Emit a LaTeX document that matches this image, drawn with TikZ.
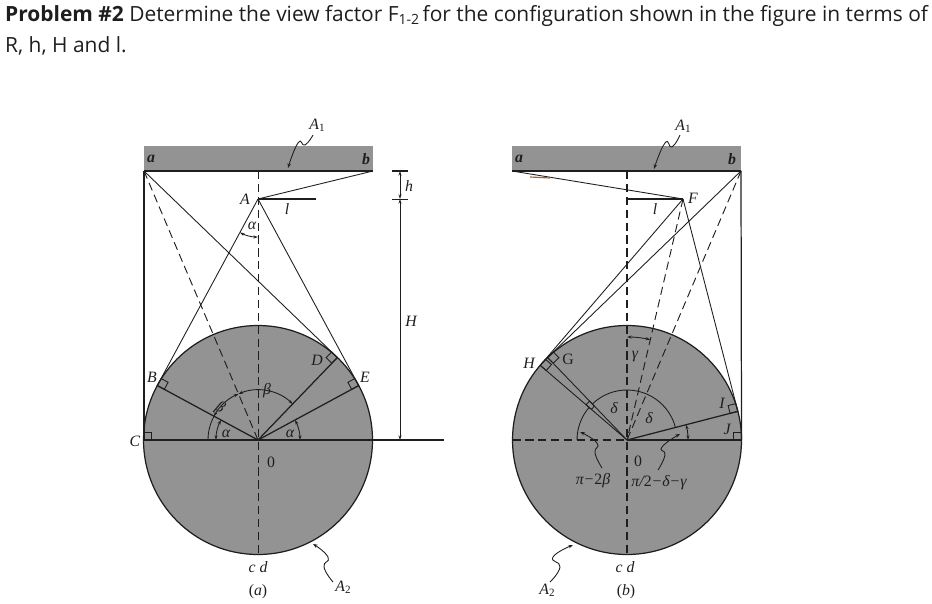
\documentclass[tikz,border=0pt]{standalone}
\usepackage{fontspec}
\newfontfamily\headfont{Open Sans}
\newfontfamily\labelfont{Liberation Serif}
\usetikzlibrary{calc,arrows.meta}
\definecolor{areagray}{HTML}{939393}
\definecolor{ink}{HTML}{1E1E1E}
\definecolor{smudge}{HTML}{A5622A}
\newcommand{\sqmark}[3]{\draw[thinline] ($(#1)+(#2:106.5)$) -- ++(#2+#3*90:8) -- ++(#2:8);
\draw[thinline] ($(#1)+(#2:106.5)$) -- ($(#1)+(#2:114.5)$) -- ++(#2+#3*90:8);}
\newcommand{\squig}[5]{\coordinate (#1p) at #2; \coordinate (#1q) at #3; \coordinate (#1r) at #4; \coordinate (#1s) at #5;
\draw[thinline,-{Stealth[length=4pt,width=3pt]}] plot[smooth,tension=0.9] coordinates {(#1p) (#1q) (#1r) (#1s)};}
\newcommand{\arcat}[5][thinline]{\draw[#1] ($(#2)+(#3:#5)$) arc[start angle=#3,end angle=#4,radius=#5];}
\newcommand{\lowtext}[1]{{\upshape\fontsize{9.5pt}{10pt}\selectfont\raisebox{-2pt}{#1}}}
\begin{document}
\begin{tikzpicture}[x=0.03cm,y=0.03cm,line cap=butt,color=ink]
\tikzstyle{every node}=[inner sep=0pt,text=ink,font=\labelfont\itshape\fontsize{13.5pt}{14pt}\selectfont]
\tikzstyle{thinline}=[line width=0.75pt,draw=ink]
\tikzstyle{midline}=[line width=1.05pt,draw=ink]
\tikzstyle{heavyline}=[line width=1.9pt,draw=ink]
\tikzstyle{dashline}=[line width=0.8pt,draw=ink,dash pattern=on 7pt off 4pt]
\tikzstyle{dimline}=[line width=0.6pt,draw=ink,{Stealth[length=4pt,width=2.6pt]}-{Stealth[length=4pt,width=2.6pt]}]
\tikzstyle{tiparc}=[line width=0.75pt,draw=ink,{Stealth[length=4pt,width=2.6pt]}-{Stealth[length=4pt,width=2.6pt]}]
\useasboundingbox (0,0) rectangle (932,603);

\node[anchor=base west,font=\headfont\fontsize{17.87pt}{20pt}\selectfont](title1) at (5,581) {\textbf{Problem \#2} Determine the view factor F{\fontsize{12pt}{12pt}\selectfont\raisebox{-2.5pt}{1-2}}\,for the configuration shown in the figure in terms of};
\node[anchor=base west,font=\headfont\fontsize{17.87pt}{20pt}\selectfont](title2) at (5,550) {R, h, H and l.};

% figure (a)
\coordinate (o1) at (258,163);
\coordinate (a1) at (144,432);
\coordinate (b1) at (373,432);
\coordinate (pA) at (258,404);
\coordinate (lA) at (316,404);
\coordinate (pC) at (144,163);
\coordinate (end1) at (444,163);
\coordinate (bot1) at (258,48.5);
\coordinate (pB) at ($(o1)+(151.6:114.5)$);
\coordinate (pE) at ($(o1)+(28.4:114.5)$);
\coordinate (pD) at ($(o1)+(46.1:114.5)$);
\fill[areagray] (a1) rectangle (373,457);
\draw[midline,fill=areagray] (o1) circle[radius=114.5];
\draw[heavyline] (a1) -- (b1);
\draw[heavyline] (pC) -- (end1);
\draw[midline] (a1) -- (pC);
\draw[midline] (pA) -- (lA);
\draw[thinline] (pA) -- (b1);
\draw[thinline] (pA) -- (pB);
\draw[thinline] (pA) -- (pE);
\draw[thinline] (a1) -- (pD);
\draw[dashline] (a1) -- (o1);
\draw[dashline] (b1 -| o1) -- (bot1);
\draw[midline] (o1) -- (pB);
\draw[midline] (o1) -- (pD);
\draw[midline] (o1) -- (pE);
\sqmark{o1}{151.6}{-1}
\sqmark{o1}{28.4}{1}
\sqmark{o1}{46.1}{1}
\sqmark{o1}{180}{-1}
\arcat{o1}{180}{151.6}{50}
\arcat[tiparc]{o1}{151.6}{113}{50}
\arcat[tiparc]{o1}{113}{46.1}{50}
\arcat[tiparc]{o1}{180}{151.6}{42}
\arcat[tiparc]{o1}{0}{28.4}{42}
\arcat[tiparc]{pA}{270}{241.6}{38}

\coordinate (hbar1) at (400,432);
\coordinate (hbar2) at (400,404);
\coordinate (hbar3) at (400,163);
\draw[midline] (392,432) -- (408,432);
\draw[thinline] (392,404) -- (408,404);
\draw[dimline] (hbar1) -- (hbar2);
\draw[dimline] (hbar2) -- (hbar3);

\squig{s1}{(313,468)}{(305,458)}{(298,460)}{(288,435)}
\squig{s2}{(333,21)}{(324,36)}{(328,46)}{(313,59)}

\node(ta1) at (317,478) {A\lowtext{1}};
\node(ta) at (151,444) {\textbf{a}};
\node(tb) at (366,444) {\textbf{b}};
\node(tA) at (245,404) {A};
\node(tl) at (287,394) {l};
\node(talpha1) at (252,377) {α};
\node(th) at (409,417) {h};
\node(tH) at (411,282) {H};
\node(tB) at (152,226) {B};
\node(tC) at (135,162) {C};
\node(tD) at (317,243) {D};
\node(tE) at (365,226) {E};
\node(tbeta1) at (267,212) {β};
\node[rotate=-30](tbeta2) at (220,195) {β};
\node(talpha2) at (226,169) {α};
\node(talpha3) at (290,169) {α};
\node(tzero1) at (271,141) {\upshape 0};
\node(tcd1) at (258,36) {c d};
\node(tcap1) at (258,11) {{\upshape(}a{\upshape)}};
\node(ta2) at (343,16) {A\lowtext{2}};

% figure (b)
\coordinate (o2) at (627,163);
\coordinate (a2) at (512,432);
\coordinate (b2) at (741,432);
\coordinate (pF) at (683,404);
\coordinate (lF) at (627,404);
\coordinate (pJ) at (741.5,163);
\coordinate (pL) at (512.5,163);
\coordinate (top2) at (627,432);
\coordinate (bot2) at (627,48.5);
\coordinate (pH) at ($(o2)+(139.3:114.5)$);
\coordinate (pG) at ($(o2)+(133.9:114.5)$);
\coordinate (pI) at ($(o2)+(14.5:114.5)$);
\coordinate (mark1) at (530,426);
\coordinate (mark2) at (550,425);
\fill[areagray] (a2) rectangle (741,457);
\draw[midline,fill=areagray] (o2) circle[radius=114.5];
\draw[heavyline] (a2) -- (b2);
\draw[heavyline] (o2) -- (pJ);
\draw[heavyline,dash pattern=on 7pt off 4pt] (pL) -- (o2);
\draw[line width=1.3pt,draw=ink,dash pattern=on 7pt off 4pt] (top2) -- (bot2);
\draw[midline] (b2) -- (pJ);
\draw[midline] (pF) -- (lF);
\draw[thinline] (a2) -- (pF);
\draw[line width=1pt,draw=smudge] (mark1) -- (mark2);
\draw[thinline] (pF) -- (pH);
\draw[thinline] (pF) -- (pI);
\draw[thinline] (b2) -- (pG);
\draw[dashline] (pF) -- (o2);
\draw[dashline] (b2) -- (o2);
\draw[thinline] (o2) -- (pH);
\draw[thinline] (o2) -- (pG);
\draw[midline] (o2) -- (pI);
\sqmark{o2}{139.3}{-1}
\sqmark{o2}{133.9}{-1}
\sqmark{o2}{14.5}{1}
\sqmark{o2}{0}{1}
\arcat{o2}{180}{139.3}{50}
\arcat{o2}{133.9}{14.5}{50}
\draw[thinline] ($(o2)+(133.9:47)$) -- ($(o2)+(133.9:54)$) -- ($(o2)+(139.3:54)$) -- ($(o2)+(139.3:47)$) -- cycle;
\arcat[tiparc]{o2}{90}{76.9}{103}
\arcat[tiparc]{o2}{0}{14.5}{61}

\squig{s3}{(680,468)}{(672,456)}{(665,460)}{(654,434)}
\squig{s4}{(550,21)}{(560,36)}{(553,46)}{(573,58)}
\squig{s5}{(602,135)}{(595,150)}{(597,160)}{(580,171)}
\squig{s6}{(658,133)}{(665,148)}{(662,156)}{(680,169)}

\node(tb1) at (683,477) {A\lowtext{1}};
\node(tb2) at (519,444) {\textbf{a}};
\node(tb3) at (732,444) {\textbf{b}};
\node(tF) at (693,405) {F};
\node(tl2) at (655,394) {l};
\node(tH2) at (529,240) {H};
\node(tG) at (568,244) {\upshape G};
\node(tI) at (722,200) {I};
\node(tJ) at (727,174) {J};
\node(tgamma) at (635,246) {γ};
\node(tdelta1) at (614,195) {δ};
\node(tdelta2) at (649,185) {δ};
\node(tzero2) at (638,142) {\upshape 0};
\node(tpi1) at (593,122) {π−{\upshape 2}β};
\node(tpi2) at (659,120) {π/{\upshape 2}−δ−γ};
\node(tcd2) at (625,36) {c d};
\node(tcap2) at (626,11) {{\upshape(}b{\upshape)}};
\node(tb4) at (547,13) {A\lowtext{2}};
\end{tikzpicture}
\end{document}
